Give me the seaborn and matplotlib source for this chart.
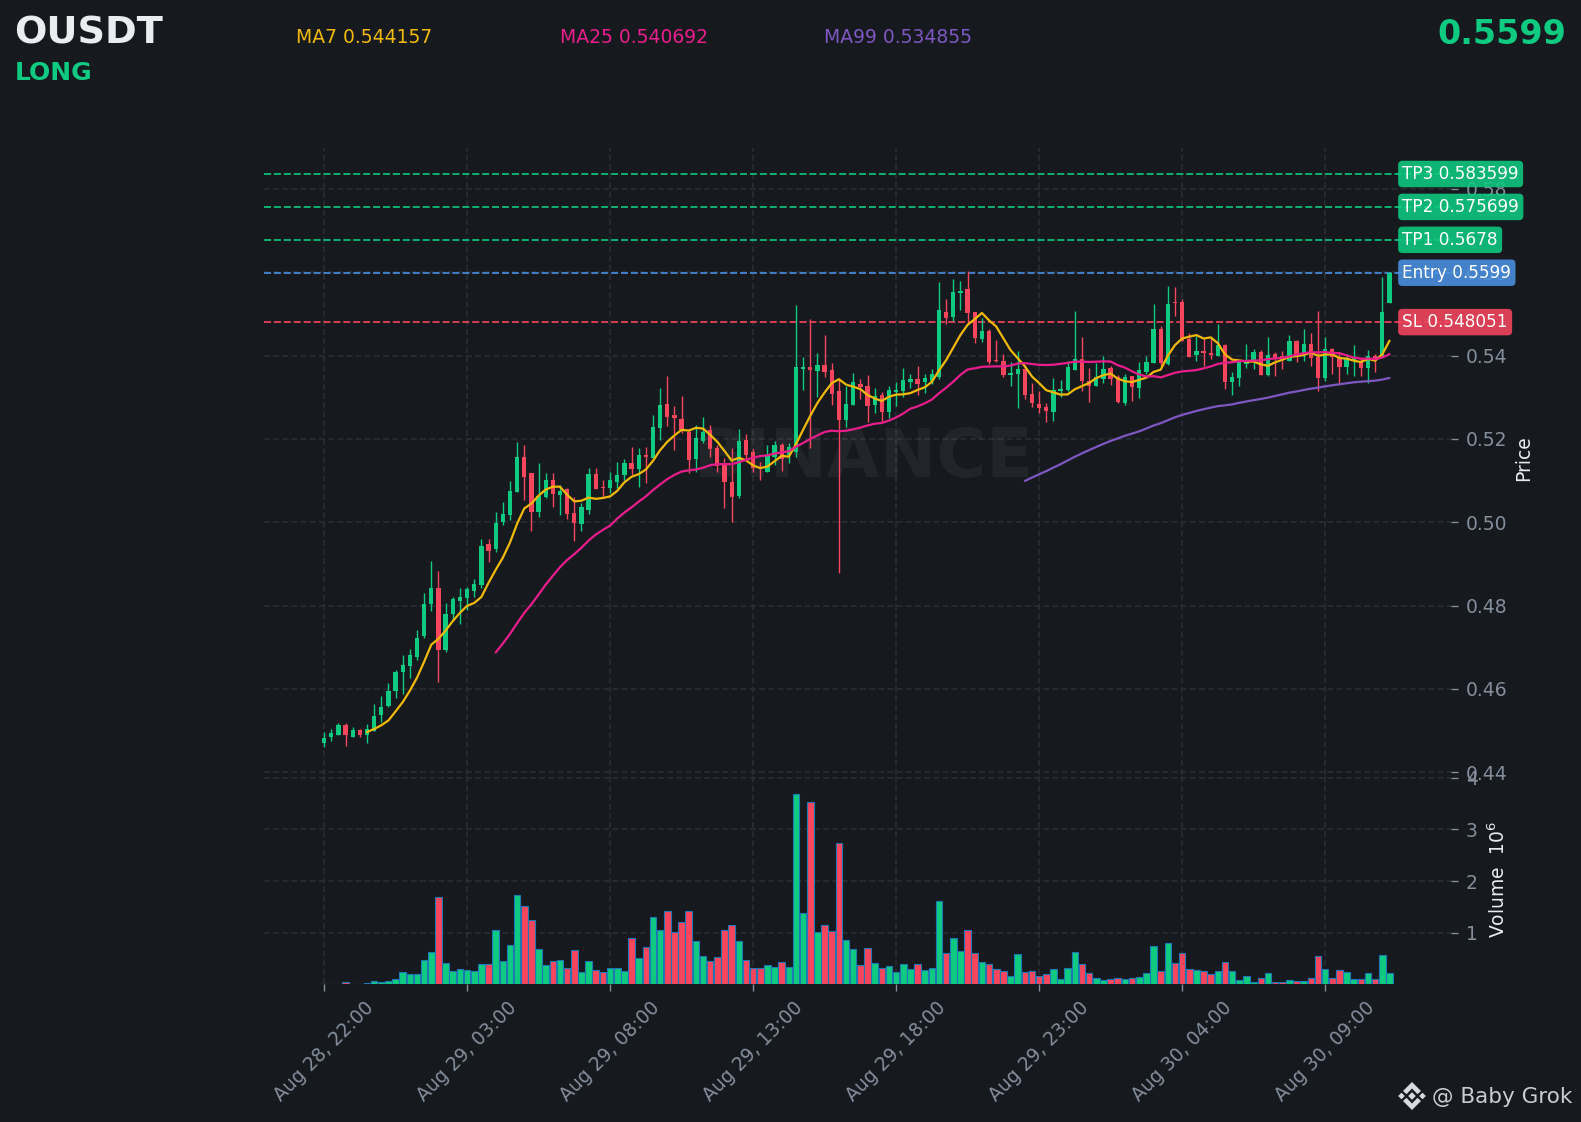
# ============================================
# OUSDT 15m CANDLE CHART WITH VOLUME PANEL
# ============================================

import numpy as np
import pandas as pd
import matplotlib
matplotlib.use("Agg")
import matplotlib.pyplot as plt
from matplotlib.patches import Polygon
import seaborn as sns

# ============================================
# DATA
# ============================================

opens = [
    .44704, .44856, .44896, .45136, .44856, .45016, .44896, .44992, .45376, .45592,
    .45952, .46416, .46552, .46768, .47272, .48040, .48424, .46936, .47800, .48112,
    .48184, .48352, .48496, .49480, .49360, .50008, .50176, .50728, .51568, .51184,
    .50248, .50608, .51016, .50656, .50800, .50224, .49960, .50296, .51160, .50848,
    .50824, .50968, .51136, .51424, .51280, .51616, .51544, .52264, .52840, .52576,
    .52480, .52168, .51520, .51952, .52216, .51784, .51376, .50968, .50632, .51976,
    .51688, .51336, .51208, .51568, .51856, .51616, .51688, .53680, .53728, .53632,
    .53776, .53656, .53152, .52456, .52816, .53320, .53272, .52816, .53056, .52648,
    .53136, .53160, .53376, .53448, .53376, .53400, .53496, .55056, .54936, .55512,
    .55608, .55056, .54408, .54600, .53904, .53880, .53544, .53568, .53688, .53088,
    .52848, .52776, .52656, .53160, .53184, .53664, .53928, .53400, .53280, .53448,
    .53712, .53496, .52872, .53520, .53232, .53616, .53832, .54648, .53808, .55296,
    .55296, .54408, .54024, .54120, .54072, .54000, .54264, .53376, .53472, .53808,
    .53904, .54096, .53544, .54048, .54000, .53880, .54360, .54072, .54288, .53976,
    .53472, .54168, .53952, .53736, .53880, .53840, .53712, .54000, .54000, .55256,
]

highs = [
    .44976, .45032, .45176, .45176, .45096, .45032, .45160, .45632, .45824, .46136,
    .46456, .46808, .46952, .47408, .48296, .49064, .48824, .48056, .48216, .48416,
    .48456, .48632, .49592, .49592, .50240, .50480, .50992, .51920, .51848, .51184,
    .51416, .51176, .51176, .50896, .50816, .50616, .50456, .51296, .51304, .51008,
    .51200, .51456, .51512, .51800, .51776, .51816, .52568, .53216, .53504, .52784,
    .53024, .52232, .52344, .52520, .52336, .51856, .51552, .51792, .52232, .52112,
    .51752, .51456, .51856, .51960, .51896, .51896, .55208, .53976, .54872, .54056,
    .54488, .53816, .53456, .53272, .53576, .53432, .53528, .53216, .53136, .53272,
    .53360, .53704, .53560, .53752, .53560, .53680, .55760, .55360, .55840, .55800,
    .56040, .55056, .54904, .54640, .54376, .54040, .53840, .54120, .53720, .53344,
    .53160, .52856, .53464, .53424, .53880, .55080, .54456, .53704, .53824, .54000,
    .53752, .53544, .53560, .53520, .53840, .54000, .55240, .54720, .55672, .55640,
    .55360, .54536, .54480, .54416, .54456, .54760, .54280, .53600, .53904, .54280,
    .54160, .54136, .54456, .54080, .54120, .54504, .54376, .54640, .54544, .55080,
    .54456, .54184, .54080, .54040, .54256, .53944, .54136, .54040, .55880, .56010,
]

lows = [
    .44616, .44744, .44896, .44640, .44856, .44856, .44696, .44992, .45216, .45560,
    .45776, .45872, .46256, .46688, .47232, .47864, .46176, .46880, .47656, .47552,
    .47896, .48216, .48416, .49056, .49296, .49928, .50064, .50728, .50536, .49800,
    .50120, .50592, .50376, .50184, .50080, .49560, .49800, .50208, .50800, .50616,
    .50696, .50816, .51016, .51136, .50840, .50936, .51536, .51976, .52312, .51744,
    .52136, .51192, .51216, .51896, .51576, .51216, .50336, .50016, .50576, .51496,
    .51216, .51024, .51208, .51376, .51240, .51416, .51560, .53168, .51776, .53016,
    .53480, .52816, .48776, .52280, .52808, .52968, .52416, .52616, .52416, .52496,
    .52800, .53016, .53216, .53064, .53096, .53320, .53432, .54760, .54824, .55104,
    .54760, .54296, .54320, .53800, .53840, .53496, .53264, .52736, .52952, .52760,
    .52632, .52400, .52440, .53016, .53160, .53664, .53160, .52896, .53280, .53336,
    .53304, .52856, .52824, .52920, .52976, .53560, .53832, .53760, .53784, .54960,
    .54360, .53976, .53864, .53752, .53912, .54000, .53200, .53056, .53280, .53704,
    .53680, .53544, .53520, .53520, .53680, .53880, .53840, .53880, .53760, .53160,
    .53400, .53560, .53344, .53560, .53520, .53520, .53336, .53600, .53960, .55256,
]

closes = [
    .44832, .44944, .45136, .44896, .45016, .44896, .45032, .45352, .45568, .45952,
    .46416, .46576, .46816, .47224, .48040, .48424, .46936, .47800, .48160, .48208,
    .48400, .48520, .49432, .49312, .49984, .50200, .50752, .51568, .51088, .50248,
    .50632, .51016, .50680, .50752, .50200, .49984, .50368, .51160, .50800, .50824,
    .51016, .51136, .51424, .51280, .51616, .51568, .52288, .52816, .52528, .52504,
    .52216, .51496, .52024, .52168, .51760, .51352, .50968, .50608, .51952, .51616,
    .51304, .51312, .51616, .51856, .51520, .51800, .53728, .53728, .53656, .53776,
    .53608, .53080, .52456, .52840, .53368, .53248, .52792, .53032, .52648, .53176,
    .53184, .53424, .53448, .53328, .53472, .53568, .55104, .54912, .55536, .55560,
    .55032, .54432, .54600, .53856, .53880, .53544, .53592, .53688, .53064, .52872,
    .52752, .52680, .53184, .53208, .53736, .53928, .53400, .53280, .53496, .53688,
    .53448, .52896, .53496, .53256, .53664, .53856, .54648, .53832, .55248, .55272,
    .54360, .53976, .54120, .54072, .54024, .54264, .53376, .53496, .53856, .53904,
    .54096, .53544, .54024, .53952, .53920, .54360, .54024, .54288, .53952, .53472,
    .54168, .53960, .53736, .53928, .53944, .53712, .54000, .53880, .55048, .55990,
]

# volume in millions
volumes = [
    .01, .005, .01, .05, .01, .005, .03, .065, .05, .065,
    .10, .23, .19, .19, .48, .63, 1.69, .42, .25, .29,
    .27, .25, .40, .40, 1.06, .46, .77, 1.73, 1.51, 1.24,
    .68, .38, .46, .48, .32, .66, .23, .46, .27, .23,
    .31, .31, .25, .89, .50, .73, 1.30, 1.06, 1.42, 1.01,
    1.20, 1.42, .83, .54, .46, .52, 1.05, 1.14, .83, .48,
    .31, .32, .38, .34, .44, .34, 3.69, 1.38, 3.54, 1.01,
    1.14, 1.03, 2.74, .85, .69, .38, .71, .42, .31, .36,
    .23, .40, .29, .40, .27, .31, 1.61, .60, .89, .64,
    1.06, .60, .44, .40, .29, .25, .17, .58, .23, .25,
    .17, .19, .29, .11, .32, .62, .40, .21, .13, .09,
    .11, .13, .11, .13, .15, .21, .75, .25, .81, .42,
    .60, .29, .27, .25, .19, .25, .44, .25, .09, .17,
    .05, .13, .21, .05, .05, .09, .07, .07, .13, .54,
    .29, .13, .27, .23, .11, .11, .21, .11, .56, .21,
]

tick_labels = [
    "Aug 28, 22:00", "Aug 29, 03:00", "Aug 29, 08:00", "Aug 29, 13:00",
    "Aug 29, 18:00", "Aug 29, 23:00", "Aug 30, 04:00", "Aug 30, 09:00",
]
price_ticks = [0.44, 0.46, 0.48, 0.50, 0.52, 0.54, 0.56, 0.58]
volume_ticks = [1, 2, 3, 4]

level_names = ["TP3", "TP2", "TP1", "Entry", "SL"]
level_prices = [0.583599, 0.575699, 0.5678, 0.5599, 0.548051]
level_texts = ["0.583599", "0.575699", "0.5678", "0.5599", "0.548051"]

# ============================================
# STYLE
# ============================================

BG = "#161a1e"
GRID = "#2b2f36"
TICK = "#848e9c"
GREEN = "#0ecb81"
RED = "#f6465d"
YELLOW = "#f0b90b"
PINK = "#e91e8c"
PURPLE = "#7e57c2"
level_colors = ["#0ecb81", "#0ecb81", "#0ecb81", "#4a90e2", "#f6465d"]
box_colors = ["#0ecb81", "#0ecb81", "#0ecb81", "#4a90e2", "#f6465d"]

W, H = 1581, 1122

sns.set_theme(style="darkgrid", rc={
    "figure.facecolor": BG,
    "axes.facecolor": BG,
    "axes.edgecolor": BG,
    "grid.color": GRID,
    "grid.linestyle": (0, (4, 2)),
    "grid.linewidth": 1.1,
    "text.color": "#ffffff",
    "axes.labelcolor": "#eaecef",
    "xtick.color": TICK,
    "ytick.color": TICK,
})
plt.rcParams["font.family"] = ["DejaVu Sans"]


def fx(px):
    return px / W


def fy(py):
    return 1 - py / H


fig = plt.figure(figsize=(W / 100, H / 100), dpi=100)
ax = fig.add_axes([fx(264), fy(775), fx(1451 - 264), (775 - 148) / H])
ax_vol = fig.add_axes([fx(264), fy(984.3), fx(1451 - 264), (984.3 - 775) / H])

# ============================================
# CANDLES
# ============================================

df = pd.DataFrame({
    "idx": np.arange(len(closes)),
    "open": opens,
    "high": highs,
    "low": lows,
    "close": closes,
    "volume": volumes,
})
df["side"] = np.where(df["close"] >= df["open"], "up", "down")
colors = df["side"].map({"up": GREEN, "down": RED})

ax.vlines(df["idx"], df["low"], df["high"], colors=colors, linewidth=1.0, zorder=3)
ax.bar(
    df["idx"],
    (df["close"] - df["open"]).abs(),
    bottom=df[["open", "close"]].min(axis=1),
    width=0.6,
    color=colors,
    linewidth=0,
    zorder=3,
)

# ============================================
# MOVING AVERAGES
# ============================================

for window, color in [(7, YELLOW), (25, PINK), (99, PURPLE)]:
    df["ma"] = df["close"].rolling(window).mean()
    sns.lineplot(data=df.dropna(subset=["ma"]), x="idx", y="ma", color=color,
                 linewidth=1.6, ax=ax, zorder=4, errorbar=None)

ax.text(0.505, 0.506, "BINANCE", transform=ax.transAxes, ha="center", va="center",
        fontsize=49, fontweight="bold", color="#ffffff", alpha=0.05, zorder=1)

# ============================================
# TRADE LEVELS
# ============================================

for name, price, text, line_c, box_c in zip(level_names, level_prices, level_texts,
                                            level_colors, box_colors):
    ax.axhline(price, color=line_c, linestyle=(0, (3.6, 1.5)), linewidth=1.4, alpha=0.85, zorder=2)
    ax.text(150.8, price, f"{name} {text}", fontsize=12.2, color="#ffffff", va="center", ha="left",
            zorder=6, bbox=dict(boxstyle="round,pad=0.25", facecolor=box_c, edgecolor="none", alpha=0.88))

ax.set_xlim(-8.4, 157.6)
ax.set_ylim(0.43935, 0.58984)
ax.set_yticks(price_ticks)
ax.set_yticklabels([f"{t:.2f}" for t in price_ticks])
ax.set_xticks(np.arange(0, 160, 20))
ax.tick_params(axis="x", length=0, labelbottom=False)
ax.yaxis.tick_right()
ax.tick_params(axis="y", length=5, width=1, pad=5.5, labelsize=13.5, left=False, right=True)
ax.set_xlabel("")
ax.set_ylabel("Price", fontsize=13.5)
ax.yaxis.set_label_position("right")
ax.yaxis.set_label_coords(1.0 + (1514 - 1451) / (1451 - 264), 0.506)

# ============================================
# VOLUME PANEL
# ============================================

sns.barplot(
    data=df,
    x="idx",
    y="volume",
    hue="side",
    palette={"up": GREEN, "down": RED},
    native_scale=True,
    dodge=False,
    saturation=1,
    width=0.92,
    edgecolor="#1f77b4",
    linewidth=0.8,
    legend=False,
    ax=ax_vol,
    zorder=3,
)
ax_vol.set_xlim(-8.4, 157.6)
ax_vol.set_ylim(0, 4.056)
ax_vol.set_yticks(volume_ticks)
ax_vol.set_xticks(np.arange(0, 160, 20))
ax_vol.set_xticklabels(tick_labels, rotation=45, ha="center", rotation_mode="default")
ax_vol.yaxis.tick_right()
ax_vol.tick_params(axis="y", length=5, width=1, pad=5.5, labelsize=13.5, left=False, right=True)
ax_vol.tick_params(axis="x", length=5, width=1, pad=5, labelsize=13.5, bottom=True)
ax_vol.set_xlabel("")
ax_vol.set_ylabel(r"Volume  $10^{6}$", fontsize=13.5)
ax_vol.yaxis.set_label_position("right")
ax_vol.yaxis.set_label_coords(1.0 + (1488 - 1451) / (1451 - 264), 0.5)

for a in (ax, ax_vol):
    a.grid(True, axis="both")
    a.set_axisbelow(True)
    for spine in a.spines.values():
        spine.set_visible(False)

# ============================================
# HEADER AND FOOTER TEXT
# ============================================

fig.text(fx(14), fy(33), "OUSDT", fontsize=27.5, fontweight="bold", color="#eaecef", va="center")
fig.text(fx(15), fy(73.5), "LONG", fontsize=18, fontweight="bold", color=GREEN, va="center")
fig.text(fx(1566), fy(34), "0.5599", fontsize=24, fontweight="bold", color=GREEN, va="center", ha="right")

fig.text(fx(295.5), fy(37.5), "MA7 0.544157", fontsize=13.5, color=YELLOW, va="center")
fig.text(fx(559.5), fy(37.5), "MA25 0.540692", fontsize=13.5, color=PINK, va="center")
fig.text(fx(823.5), fy(37.5), "MA99 0.534855", fontsize=13.5, color=PURPLE, va="center")

fig.text(fx(1432), fy(1097), "@ Baby Grok", fontsize=15.5, color="#c9ccd1", va="center")

# Binance style logo next to the footer text
cx, cy = 1412, 1096
logo_shapes = [
    [(0, -14), (9, -5), (5.5, -1.8), (0, -7.5), (-5.5, -1.8), (-9, -5)],
    [(0, 14), (9, 5), (5.5, 1.8), (0, 7.5), (-5.5, 1.8), (-9, 5)],
    [(0, -3.8), (3.8, 0), (0, 3.8), (-3.8, 0)],
    [(-10.5, -3.3), (-7.2, 0), (-10.5, 3.3), (-13.8, 0)],
    [(10.5, -3.3), (13.8, 0), (10.5, 3.3), (7.2, 0)],
]
for shape in logo_shapes:
    pts = [(fx(cx + dx), fy(cy + dy)) for dx, dy in shape]
    fig.add_artist(Polygon(pts, closed=True, facecolor="#d8dade", edgecolor="none",
                           transform=fig.transFigure))

fig.savefig("out.png", dpi=100, facecolor=BG)
